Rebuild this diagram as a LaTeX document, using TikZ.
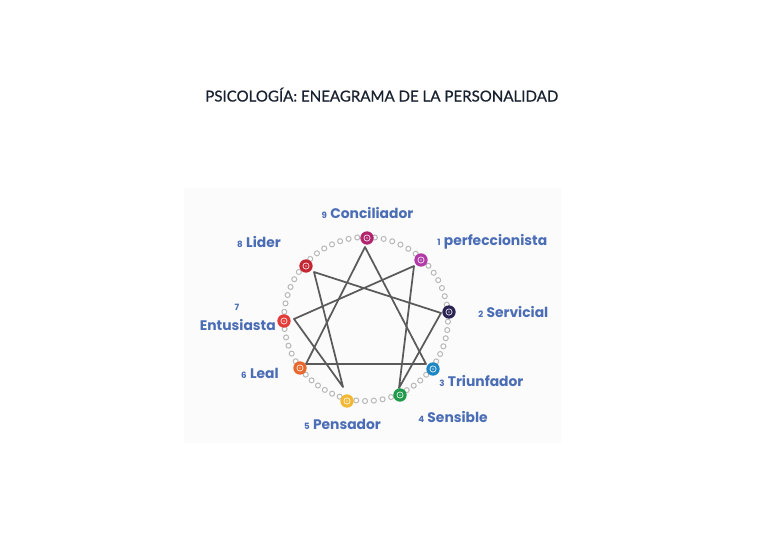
\documentclass[tikz,border=0pt]{standalone}
\usepackage{fontspec}
\setmainfont{Poppins}
\newfontfamily\titlefont{Lato}[FakeBold=0.6]
\definecolor{labblue}{HTML}{4A6DB5}
\definecolor{titlecol}{HTML}{18212F}
\definecolor{linegray}{HTML}{5A5A5A}
\definecolor{dotgray}{HTML}{B8B8B8}
\definecolor{bgpanel}{HTML}{FBFBFB}
\definecolor{c9}{HTML}{B3246F}
\definecolor{c1}{HTML}{B23AA6}
\definecolor{c2}{HTML}{2B2452}
\definecolor{c3}{HTML}{1F86C4}
\definecolor{c4}{HTML}{1F9A4A}
\definecolor{c5}{HTML}{F2B733}
\definecolor{c6}{HTML}{E8672B}
\definecolor{c7}{HTML}{E43A38}
\definecolor{c8}{HTML}{C42632}
\tikzset{
  lab/.style={text=labblue, font=\fontsize{10.4}{12}\selectfont\bfseries, inner sep=0pt},
  edge/.style={draw=linegray, line width=1.3pt, line join=round},
  graydot/.style={draw=dotgray, fill=white, line width=0.75pt},
  pointdot/.style={circle, fill=#1, minimum size=10pt, inner sep=0pt,
    path picture={\draw[white!80!#1, line width=0.6pt] (path picture bounding box.center) circle (2.3pt);
                  \fill[white!60!#1] (path picture bounding box.center) circle (0.7pt);}}
}
\newcommand{\nm}[1]{{\fontsize{6.5}{8}\selectfont #1}\hspace{2.5pt}}
\begin{document}
\begin{tikzpicture}[x=0.75pt,y=-0.75pt]
\useasboundingbox (0,0) rectangle (768,544);
\fill[white] (0,0) rectangle (768,544);
\fill[bgpanel] (184,188) rectangle (561,443);

% title
\node[text=titlecol, font=\titlefont\fontsize{11.3}{13}\selectfont, anchor=base west, inner sep=0pt] (title) at (205,101.5) {PSICOLOGÍA: ENEAGRAMA DE LA PERSONALIDAD};

% small gray dots
\foreach \a/\b/\n in {90/46.5/7, 46.5/4/7, 4/-37/7, -37/-66/5, -66/-103/6, -103/-143/7, -143/-179/6, 181/139/7, 139/90/8}{
  \pgfmathtruncatemacro\m{\n-1}
  \foreach \k in {1,...,\m}{
    \pgfmathsetmacro\t{\a+(\b-\a)*\k/\n}
    \draw[graydot] ({366+82*cos(\t)},{319-82*sin(\t)}) circle (2.5);
  }
}

% star vertices
\coordinate (v9) at (365,247);
\coordinate (v1) at (414,266);
\coordinate (v2) at (441,313);
\coordinate (v3) at (426,364);
\coordinate (v4) at (399,388);
\coordinate (v5) at (343,387);
\coordinate (v6) at (306,364);
\coordinate (v7) at (294,319);
\coordinate (v8) at (314,272);

% connectors
\draw[edge] (v9) -- (v3) -- (v6) -- cycle;
\draw[edge] (v1) -- (v4) -- (v2) -- (v8) -- (v5) -- (v7) -- cycle;

% colored points
\node[pointdot=c9] (n9) at (367,238) {};
\node[pointdot=c1] (n1) at (421,260) {};
\node[pointdot=c2] (n2) at (449,312) {};
\node[pointdot=c3] (n3) at (433,369) {};
\node[pointdot=c4] (n4) at (400,395) {};
\node[pointdot=c5] (n5) at (347,401) {};
\node[pointdot=c6] (n6) at (300,368) {};
\node[pointdot=c7] (n7) at (284,321) {};
\node[pointdot=c8] (n8) at (306,266) {};

% labels
\node[lab, anchor=base] (l9) at (367.5,218) {\nm{9}Conciliador};
\node[lab, anchor=base west] (l1) at (437,245) {\nm{1}perfeccionista};
\node[lab, anchor=base west] (l2) at (478,317) {\nm{2}Servicial};
\node[lab, anchor=base west] (l3) at (439,386) {\nm{3}Triunfador};
\node[lab, anchor=base west] (l4) at (418,422) {\nm{4}Sensible};
\node[lab, anchor=base] (l5) at (342.5,429) {\nm{5}Pensador};
\node[lab, anchor=base east] (l6) at (279,378) {\nm{6}Leal};
\node[lab, anchor=base, font=\fontsize{6.5}{8}\selectfont\bfseries] (l7n) at (237,310) {7};
\node[lab, anchor=base east] (l7) at (276,330) {Entusiasta};
\node[lab, anchor=base east] (l8) at (281,247) {\nm{8}Lider};
\end{tikzpicture}
\end{document}
